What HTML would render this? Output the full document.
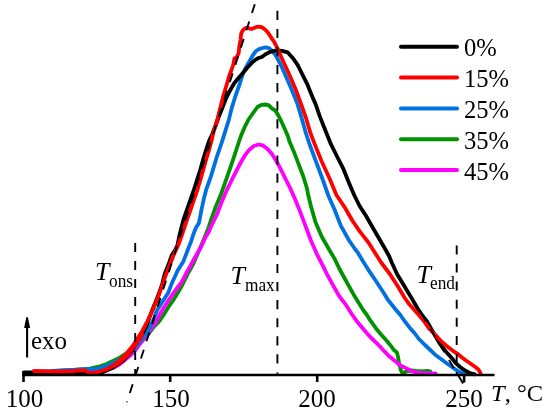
<!DOCTYPE html>
<html><head><meta charset="utf-8"><style>
html,body{margin:0;padding:0;background:#fff;}
svg{display:block;}
text{font-family:"Liberation Serif","Times New Roman",serif;fill:#000;}
</style></head><body>
<svg width="550" height="416" viewBox="0 0 550 416">
<rect width="550" height="416" fill="#fff"/>
<g fill="none" stroke-width="3.8" stroke-linejoin="round" stroke-linecap="round">
<path d="M34.0 372.0 L70.0 371.5 L85.0 370.0 L92.0 368.0 L100.0 366.3 L106.7 364.0 L113.4 360.8 L120.2 357.4 L127.0 352.8 L132.0 348.8 L137.0 345.5 L141.0 342.0 L144.5 338.5 L147.6 335.0 L151.0 330.5 L154.5 326.0 L157.5 323.2 L160.5 319.5 L164.4 313.8 L168.7 306.6 L173.8 299.4 L178.1 292.2 L182.0 285.5 L185.5 278.5 L189.0 271.5 L193.2 264.0 L199.1 250.5 L204.5 237.7 L208.2 228.6 L211.8 217.7 L216.0 206.0 L220.9 194.5 L227.3 176.4 L233.6 158.2 L238.5 143.0 L241.1 135.4 L244.4 127.7 L248.5 119.5 L253.1 113.0 L257.5 107.0 L261.3 104.8 L266.2 104.5 L268.9 105.4 L271.6 108.1 L275.5 110.8 L278.2 115.2 L281.5 121.7 L284.7 128.8 L288.0 136.5 L289.5 141.6 L294.5 153.3 L298.9 164.9 L303.3 176.5 L306.9 188.2 L308.2 195.0 L310.9 205.9 L315.5 222.3 L321.8 236.8 L329.1 249.5 L334.5 258.6 L339.5 269.0 L342.8 275.0 L348.1 284.6 L353.4 294.2 L358.8 303.0 L363.5 310.5 L366.6 314.5 L370.5 320.7 L376.0 328.4 L381.5 334.9 L386.5 340.5 L390.9 345.9 L394.2 350.3 L396.9 352.5 L398.0 356.8 L399.1 363.4 L400.7 369.9 L402.4 373.2 L404.5 372.6 L406.7 371.0 L411.6 370.5 L416.0 371.0 L421.5 371.5 L426.9 371.0 L430.2 371.5" stroke="#009200"/>
<path d="M40.0 373.0 L71.0 372.8 L85.0 372.8 L100.0 372.0 L110.0 369.0 L114.0 367.5 L120.0 364.0 L126.9 358.2 L132.8 353.3 L137.5 347.5 L141.8 341.5 L146.2 335.8 L149.5 331.0 L152.8 326.5 L156.0 322.0 L159.5 315.0 L163.5 308.0 L169.0 299.6 L175.6 290.0 L180.9 283.1 L183.5 278.6 L186.8 272.1 L190.1 266.6 L193.4 260.1 L197.2 253.5 L201.0 247.0 L204.0 240.5 L206.1 236.1 L208.2 233.2 L211.0 226.5 L214.0 220.3 L216.4 215.9 L221.8 201.8 L226.4 190.9 L232.7 178.2 L238.2 167.3 L240.5 163.0 L244.4 156.2 L248.7 150.4 L253.8 146.0 L258.9 144.5 L263.3 145.7 L267.6 148.9 L272.0 154.0 L275.6 159.8 L279.3 166.4 L282.9 173.6 L286.5 180.9 L290.2 188.2 L295.0 199.0 L300.0 211.4 L305.5 225.9 L310.9 240.5 L317.3 255.0 L321.8 263.6 L327.4 275.0 L332.7 284.6 L337.0 292.3 L339.5 296.5 L345.2 303.8 L351.4 313.5 L356.4 320.7 L361.8 327.3 L367.3 333.8 L372.7 339.3 L377.6 344.2 L380.0 346.5 L384.4 351.4 L389.8 356.8 L395.3 361.2 L399.6 365.0 L405.1 367.7 L410.5 370.5 L416.0 372.6 L423.6 373.2 L431.3 373.4 L435.6 373.4" stroke="#ff00ff"/>
<path d="M34.0 371.8 L50.0 371.2 L63.0 370.2 L75.0 369.6 L80.0 369.2 L88.0 368.8 L92.0 369.3 L96.0 368.8 L100.0 368.2 L106.7 365.8 L113.4 362.6 L120.2 359.2 L123.6 356.8 L128.5 352.5 L133.3 350.0 L136.5 346.0 L140.1 341.5 L144.4 335.8 L147.8 331.0 L152.3 322.6 L157.2 310.0 L161.8 302.8 L168.2 292.7 L171.9 283.1 L174.5 277.5 L178.0 269.9 L183.5 261.2 L186.8 252.5 L188.1 249.0 L190.9 241.9 L193.8 233.2 L196.0 227.5 L198.9 223.1 L200.3 215.9 L201.7 208.7 L203.9 198.6 L206.1 190.0 L210.9 176.4 L216.4 158.2 L221.7 142.6 L225.3 131.1 L228.9 119.6 L231.7 108.1 L235.3 96.5 L239.7 84.0 L241.5 78.2 L243.6 72.0 L247.0 65.5 L250.5 59.5 L253.0 55.0 L256.0 51.0 L259.5 48.8 L262.5 48.0 L265.5 47.4 L269.1 48.2 L272.7 51.3 L276.4 56.4 L279.3 62.2 L282.2 68.0 L285.1 74.5 L287.3 79.6 L291.0 88.0 L297.5 104.1 L301.8 118.6 L303.9 126.0 L305.9 133.2 L309.3 143.5 L316.0 161.7 L322.7 179.5 L328.5 196.0 L334.5 209.5 L340.9 225.9 L349.1 240.5 L355.0 249.0 L358.2 253.2 L362.5 260.5 L369.1 270.9 L376.4 281.8 L383.6 292.7 L388.0 300.0 L392.5 305.5 L396.7 310.9 L400.0 314.5 L404.5 321.0 L410.9 329.1 L414.5 333.0 L418.5 338.5 L425.0 345.0 L430.3 350.0 L435.5 355.0 L441.0 359.0 L447.0 363.5 L453.0 367.7 L459.1 371.9 L466.3 374.3" stroke="#0070e2"/>
<path d="M23.8 372.3 L45.0 372.5 L70.0 373.0 L91.0 373.7 L101.8 372.6 L112.7 367.7 L123.6 360.1 L132.5 350.0 L135.2 344.5 L138.8 339.2 L143.8 331.5 L147.8 323.0 L149.2 318.0 L152.3 310.0 L155.8 301.5 L158.9 293.5 L162.2 284.0 L164.6 274.2 L168.5 264.5 L171.8 255.0 L175.2 250.0 L177.5 245.0 L179.8 234.0 L183.7 218.8 L188.8 204.4 L193.8 190.0 L197.0 180.0 L200.2 170.0 L203.0 160.0 L206.0 150.0 L209.0 141.0 L212.3 134.0 L215.5 126.0 L218.8 116.7 L221.7 109.5 L225.4 100.0 L229.5 91.5 L234.0 83.5 L238.5 78.0 L243.6 72.2 L247.0 68.0 L251.8 62.9 L255.6 59.6 L258.5 58.0 L261.8 57.0 L265.5 54.2 L270.5 51.8 L276.4 50.4 L282.2 50.8 L287.6 52.3 L292.9 58.2 L297.6 64.8 L300.9 71.5 L304.2 78.1 L307.5 84.7 L310.1 91.3 L312.8 97.9 L315.6 104.1 L319.8 116.4 L325.0 129.5 L330.3 142.8 L336.8 156.0 L343.5 169.2 L348.7 182.3 L354.4 195.5 L359.6 206.0 L366.1 216.0 L371.8 226.0 L377.6 236.0 L383.4 246.0 L389.1 256.0 L391.5 262.0 L397.0 274.0 L404.3 286.0 L411.2 297.5 L415.0 304.0 L419.3 311.2 L422.7 316.0 L427.0 321.5 L431.4 329.2 L435.2 335.7 L439.0 342.3 L442.8 347.7 L447.7 353.6 L452.6 359.0 L455.5 362.9 L459.5 366.5 L462.7 368.9 L466.0 371.0 L469.9 373.1 L474.7 374.3" stroke="#000000"/>
<path d="M34.0 371.0 L50.0 371.3 L62.0 371.5 L73.5 371.0 L78.5 370.4 L85.5 370.5 L88.7 372.6 L93.1 373.2 L99.6 371.5 L106.2 369.5 L112.2 366.3 L116.0 364.0 L120.0 361.0 L123.7 357.8 L127.0 354.2 L130.0 350.5 L133.4 345.2 L137.0 339.2 L142.0 331.5 L146.5 323.0 L149.0 318.0 L152.8 310.0 L156.3 301.5 L159.4 293.5 L162.7 284.0 L166.1 274.2 L170.0 264.5 L173.6 255.0 L176.0 250.0 L178.3 245.0 L182.2 234.0 L187.3 218.8 L192.4 204.4 L197.4 190.0 L200.3 180.0 L203.2 170.0 L206.0 160.0 L209.0 150.0 L211.5 141.0 L213.7 131.1 L217.3 119.6 L220.2 108.1 L223.1 96.5 L226.6 85.0 L229.2 76.0 L231.3 70.5 L233.5 64.0 L234.4 58.5 L236.5 57.5 L238.7 53.1 L239.3 46.5 L240.5 40.0 L241.2 33.5 L242.8 30.3 L245.0 28.5 L247.0 27.6 L249.5 28.6 L251.4 29.0 L254.0 28.0 L257.0 26.6 L260.0 26.8 L262.3 27.4 L265.0 29.5 L267.7 32.3 L272.1 38.9 L274.5 42.5 L277.1 47.6 L280.0 54.2 L283.6 62.2 L287.3 70.2 L289.5 75.0 L290.9 78.2 L295.5 89.0 L301.1 104.1 L306.0 118.0 L310.5 133.2 L314.3 143.2 L321.5 161.0 L330.0 179.5 L336.4 195.0 L345.0 207.7 L352.3 220.5 L359.7 231.4 L368.3 242.3 L373.2 250.0 L380.8 262.0 L389.8 274.0 L397.6 286.0 L404.8 298.0 L408.6 303.4 L416.0 311.8 L423.5 320.5 L429.0 328.5 L435.0 334.5 L440.8 340.8 L446.6 346.0 L452.2 350.3 L457.5 353.8 L462.0 357.5 L466.0 360.5 L470.0 363.2 L475.0 366.8 L478.4 369.5 L480.5 373.0" stroke="#ff0000"/>
<path d="M116.0 364.0 L120.0 361.0 L123.7 357.8 L127.0 354.2 L129.5 351.0 L134.8 344.6 L138.5 339.5 L141.5 334.5" stroke="#ff0000" stroke-width="5.2"/>
</g>
<g fill="none" stroke="#000" stroke-width="1.9">
<line x1="135.2" y1="243" x2="135.2" y2="374" stroke-dasharray="9 9"/>
<line x1="277.4" y1="10.8" x2="277.4" y2="374" stroke-dasharray="9.2 8.88"/>
<line x1="456.7" y1="245.4" x2="456.7" y2="374" stroke-dasharray="9 9.1"/>
<line x1="254.8" y1="4.3" x2="126.9" y2="402.2" stroke-dasharray="9.2 8.94"/>
<line x1="411.8" y1="297.7" x2="463.1" y2="383.5" stroke-dasharray="9.2 8.94"/>
</g>
<g stroke="#000" stroke-width="2.6" fill="none">
<line x1="22.2" y1="375" x2="494.5" y2="375"/>
<line x1="23.5" y1="373.5" x2="23.5" y2="382"/>
<line x1="170.2" y1="374" x2="170.2" y2="382"/>
<line x1="317.2" y1="374" x2="317.2" y2="382"/>
<line x1="464.1" y1="374" x2="464.1" y2="382.5"/>
</g>
<text transform="translate(24.50 406.50) scale(1 1.000)" font-size="25.00" text-anchor="middle">100</text>
<text transform="translate(171.00 406.50) scale(1 1.000)" font-size="25.00" text-anchor="middle">150</text>
<text transform="translate(317.00 406.50) scale(1 1.000)" font-size="25.00" text-anchor="middle">200</text>
<text transform="translate(464.00 406.50) scale(1 1.000)" font-size="25.00" text-anchor="middle">250</text>
<text transform="translate(491 400.5) scale(1 0.983)" font-size="24.5"><tspan font-style="italic">T</tspan>, °C</text>
<text transform="translate(31.00 349.00) scale(1 0.975)" font-size="25.00">exo</text>
<text transform="translate(95.00 280.00) scale(1 0.935)" font-size="26.00" font-style="italic">T</text>
<text transform="translate(109.00 286.50) scale(1 1.060)" font-size="17.30">ons</text>
<text transform="translate(230.50 284.30) scale(1 0.935)" font-size="26.00" font-style="italic">T</text>
<text transform="translate(245.00 291.00) scale(1 1.060)" font-size="17.30">max</text>
<text transform="translate(416.50 282.50) scale(1 0.935)" font-size="26.00" font-style="italic">T</text>
<text transform="translate(430.00 289.00) scale(1 1.060)" font-size="17.30">end</text>
<text transform="translate(464.00 56.30) scale(1 1.030)" font-size="24.60">0%</text>
<text transform="translate(464.00 87.10) scale(1 1.030)" font-size="24.60">15%</text>
<text transform="translate(464.00 117.90) scale(1 1.030)" font-size="24.60">25%</text>
<text transform="translate(464.00 148.80) scale(1 1.030)" font-size="24.60">35%</text>
<text transform="translate(464.00 179.50) scale(1 1.030)" font-size="24.60">45%</text>

<line x1="27.1" y1="357.5" x2="27.1" y2="326" stroke="#000" stroke-width="2.1"/>
<path d="M26.3 317.3 L27.9 317.3 L30.1 328 L24.1 328 Z" fill="#000"/>
<g stroke-width="4" stroke-linecap="round" font-size="24">
<line x1="401" y1="46.8" x2="457" y2="46.8" stroke="#000000"/>
<line x1="401" y1="77.6" x2="457" y2="77.6" stroke="#ff0000"/>
<line x1="401" y1="108.4" x2="457" y2="108.4" stroke="#0070e2"/>
<line x1="401" y1="139.3" x2="457" y2="139.3" stroke="#009200"/>
<line x1="401" y1="170.0" x2="457" y2="170.0" stroke="#ff00ff"/>

</g>
</svg>
</body></html>
